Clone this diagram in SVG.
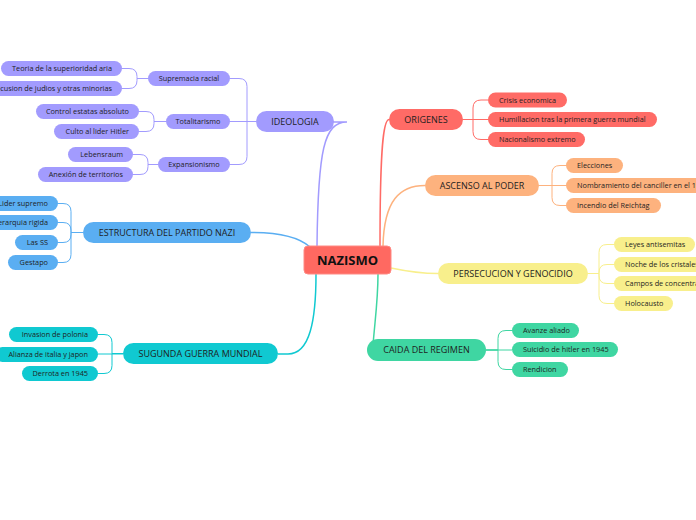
<svg xmlns="http://www.w3.org/2000/svg" width="696" height="520" viewBox="0 0 696 520">
<style>
text{font-family:"Open Sans","Noto Sans","DejaVu Sans",sans-serif;fill:#1e1e1e}
.c{font-size:7.3px}
.b{font-size:9px;text-anchor:middle}
.s{font-size:7.3px;text-anchor:middle}
.l{text-anchor:end}
.m{font-size:13px;font-weight:bold;text-anchor:middle;fill:#111}
.k path{fill:none;stroke-width:1}
.k .main{stroke-width:1.5}
.pu{fill:#A29BFE}.bl{fill:#5AAEF2}.cy{fill:#10C9D1}.rd{fill:#FF6B66}.or{fill:#FDB27E}.ye{fill:#F8EF8C}.gr{fill:#3FD6A2}
</style>
<rect width="696" height="520" fill="#ffffff"/>
<g id="connectors" class="k">
<path class="main" stroke="#A29BFE" d="M333,122 H347 M347,122 C324,122 318,150 317,246"/>
<path class="main" stroke="#5AAEF2" d="M251,232.5 C280,232.5 300,238 310,247"/>
<path class="main" stroke="#10C9D1" d="M278,354 H288 C310,354 316,320 316,274"/>
<path class="main" stroke="#FF6B66" d="M389,119.5 C383,120 380,150 380,246"/>
<path class="main" stroke="#FDB27E" d="M425,185.5 C400,185.5 384,200 383,246"/>
<path class="main" stroke="#F8EF8C" d="M391,268 C410,272 420,273.5 438,273.5"/>
<path class="main" stroke="#3FD6A2" d="M378,274 C378,300 375,320 373,345"/>
<g stroke="#A29BFE">
<path d="M256,121.5 H247 V86.5 Q247,78.5 239,78.5 H230"/>
<path d="M256,121.5 H230"/>
<path d="M256,121.5 H247 V156.5 Q247,164.5 239,164.5 H230"/>
<path d="M148,78.5 H137 V76.5 Q137,68.5 129,68.5 H122"/>
<path d="M148,78.5 H137 V80.5 Q137,88.5 129,88.5 H122"/>
<path d="M166,121.5 H154 V119.5 Q154,111.5 146,111.5 H139"/>
<path d="M166,121.5 H154 V123.5 Q154,131.5 146,131.5 H139"/>
<path d="M158,164.5 H148 V162.5 Q148,154.5 140,154.5 H133"/>
<path d="M158,164.5 H148 V166.5 Q148,174.5 140,174.5 H133"/>
</g>
<g stroke="#5AAEF2">
<path d="M83,232.5 H71 V211.5 Q71,203.5 63,203.5 H58"/>
<path d="M83,232.5 H71 V230.5 Q71,222.5 63,222.5 H58"/>
<path d="M83,232.5 H71 V234.5 Q71,242.5 63,242.5 H58"/>
<path d="M83,232.5 H71 V254.5 Q71,262.5 63,262.5 H58"/>
</g>
<g stroke="#10C9D1">
<path d="M123,353.5 H112 V342.5 Q112,334.5 104,334.5 H98"/>
<path d="M123,354 H98"/>
<path d="M123,353.5 H112 V365.5 Q112,373.5 104,373.5 H98"/>
</g>
<g stroke="#FF6B66">
<path d="M463,119.5 H473 V108 Q473,100 481,100 H488"/>
<path d="M463,119.5 H488"/>
<path d="M463,119.5 H473 V131.5 Q473,139.5 481,139.5 H488"/>
</g>
<g stroke="#FDB27E">
<path d="M539,185.5 H552 V173.5 Q552,165.5 560,165.5 H566"/>
<path d="M539,185.5 H566"/>
<path d="M539,185.5 H552 V197.5 Q552,205.5 560,205.5 H566"/>
</g>
<g stroke="#F8EF8C">
<path d="M588,273.5 H599 V252.5 Q599,244.5 607,244.5 H614"/>
<path d="M588,273.5 H599 V272.5 Q599,264.5 607,264.5 H614"/>
<path d="M588,273.5 H599 V275.5 Q599,283.5 607,283.5 H614"/>
<path d="M588,273.5 H599 V295.5 Q599,303.5 607,303.5 H614"/>
</g>
<g stroke="#3FD6A2">
<path d="M486,350 H498 V338.5 Q498,330.5 506,330.5 H512"/>
<path d="M486,350 H512"/>
<path d="M486,350 H498 V361.5 Q498,369.5 506,369.5 H512"/>
</g>
</g>
<g id="nazismo"><rect x="304" y="246" width="87" height="28" rx="4" fill="#FF6961" stroke="#ff8a84" stroke-width="1"/><text class="m" x="347.5" y="265">NAZISMO</text></g>
<g id="ideologia"><rect class="pu" x="256" y="111" width="78" height="21" rx="10.5"/><text class="b" x="295" y="124.8">IDEOLOGIA</text></g>
<g id="supremacia"><rect class="pu" x="148" y="71" width="82" height="15" rx="7.5"/><text class="s" x="189" y="81">Supremacia racial</text></g>
<g id="totalitarismo"><rect class="pu" x="166" y="114" width="64" height="15" rx="7.5"/><text class="s" x="198" y="124">Totalitarismo</text></g>
<g id="expansionismo"><rect class="pu" x="158" y="157" width="72" height="15" rx="7.5"/><text class="s" x="194" y="167">Expansionismo</text></g>
<g id="teoria"><rect class="pu" x="1" y="61" width="121" height="15" rx="7.5"/><text class="c l" x="112" y="71">Teoria de la superioridad aria</text></g>
<g id="persecusion"><rect class="pu" x="-31" y="81" width="153" height="15" rx="7.5"/><text class="c l" x="112" y="91">Persecusion de judios y otras minorias</text></g>
<g id="control"><rect class="pu" x="36" y="104" width="103" height="15" rx="7.5"/><text class="c l" x="129" y="114">Control estatas absoluto</text></g>
<g id="culto"><rect class="pu" x="54" y="124" width="85" height="15" rx="7.5"/><text class="c l" x="129" y="134">Culto al lider Hitler</text></g>
<g id="lebensraum"><rect class="pu" x="68" y="147" width="65" height="15" rx="7.5"/><text class="c l" x="123" y="157">Lebensraum</text></g>
<g id="anexion"><rect class="pu" x="38" y="167" width="95" height="15" rx="7.5"/><text class="c l" x="123" y="177">Anexión de territorios</text></g>
<g id="estructura"><rect class="bl" x="83" y="222" width="168" height="21" rx="10.5"/><text class="b" x="167" y="235.8">ESTRUCTURA DEL PARTIDO NAZI</text></g>
<g id="lider"><rect class="bl" x="-10" y="196" width="68" height="15" rx="7.5"/><text class="c l" x="48" y="206">Lider supremo</text></g>
<g id="jerarquia"><rect class="bl" x="-12" y="215" width="70" height="15" rx="7.5"/><text class="c l" x="48" y="225">Jerarquia rigida</text></g>
<g id="lasss"><rect class="bl" x="15" y="235" width="43" height="15" rx="7.5"/><text class="c l" x="48" y="245">Las SS</text></g>
<g id="gestapo"><rect class="bl" x="8" y="255" width="50" height="15" rx="7.5"/><text class="c l" x="48" y="265">Gestapo</text></g>
<g id="guerra"><rect class="cy" x="123" y="343" width="155" height="21" rx="10.5"/><text class="b" x="200.5" y="356.8">SUGUNDA GUERRA MUNDIAL</text></g>
<g id="invasion"><rect class="cy" x="9" y="327" width="89" height="15" rx="7.5"/><text class="c l" x="88" y="337">Invasion de polonia</text></g>
<g id="alianza"><rect class="cy" x="-5" y="347" width="103" height="15" rx="7.5"/><text class="c l" x="88" y="357">Alianza de italia y japon</text></g>
<g id="derrota"><rect class="cy" x="22" y="366" width="76" height="15" rx="7.5"/><text class="c l" x="88" y="376">Derrota en 1945</text></g>
<g id="origenes"><rect class="rd" x="389" y="109" width="74" height="21" rx="10.5"/><text class="b" x="426" y="122.8">ORIGENES</text></g>
<g id="crisis"><rect class="rd" x="488" y="92.5" width="79" height="15" rx="7.5"/><text class="c" x="499" y="102.5">Crisis economica</text></g>
<g id="humillacion"><rect class="rd" x="488" y="112" width="169" height="15" rx="7.5"/><text class="c" x="499" y="122">Humillacion tras la primera guerra mundial</text></g>
<g id="nacionalismo"><rect class="rd" x="488" y="132" width="97" height="15" rx="7.5"/><text class="c" x="499" y="142">Nacionalismo extremo</text></g>
<g id="ascenso"><rect class="or" x="425" y="175" width="114" height="21" rx="10.5"/><text class="b" x="482" y="188.8">ASCENSO AL PODER</text></g>
<g id="elecciones"><rect class="or" x="566" y="158" width="57" height="15" rx="7.5"/><text class="c" x="577" y="168">Elecciones</text></g>
<g id="nombramiento"><rect class="or" x="566" y="178" width="170" height="15" rx="7.5"/><text class="c" x="577" y="188">Nombramiento del canciller en el 1933</text></g>
<g id="incendio"><rect class="or" x="566" y="198" width="95" height="15" rx="7.5"/><text class="c" x="577" y="208">Incendio del Reichtag</text></g>
<g id="persecucion"><rect class="ye" x="438" y="263" width="150" height="21" rx="10.5"/><text class="b" x="513" y="276.8">PERSECUCION Y GENOCIDIO</text></g>
<g id="leyes"><rect class="ye" x="614" y="237" width="81" height="15" rx="7.5"/><text class="c" x="625" y="247">Leyes antisemitas</text></g>
<g id="noche"><rect class="ye" x="614" y="257" width="112" height="15" rx="7.5"/><text class="c" x="625" y="267">Noche de los cristales rotos</text></g>
<g id="campos"><rect class="ye" x="614" y="276" width="102" height="15" rx="7.5"/><text class="c" x="625" y="286">Campos de concentracion</text></g>
<g id="holocausto"><rect class="ye" x="614" y="296" width="59" height="15" rx="7.5"/><text class="c" x="625" y="306">Holocausto</text></g>
<g id="caida"><rect class="gr" x="367" y="339" width="119" height="22" rx="11"/><text class="b" x="426.5" y="353.3">CAIDA DEL REGIMEN</text></g>
<g id="avanze"><rect class="gr" x="512" y="323" width="67" height="15" rx="7.5"/><text class="c" x="523" y="333">Avanze aliado</text></g>
<g id="suicidio"><rect class="gr" x="512" y="342" width="106" height="15" rx="7.5"/><text class="c" x="523" y="352">Suicidio de hitler en 1945</text></g>
<g id="rendicion"><rect class="gr" x="512" y="362" width="56" height="15" rx="7.5"/><text class="c" x="523" y="372">Rendicion</text></g>
</svg>
